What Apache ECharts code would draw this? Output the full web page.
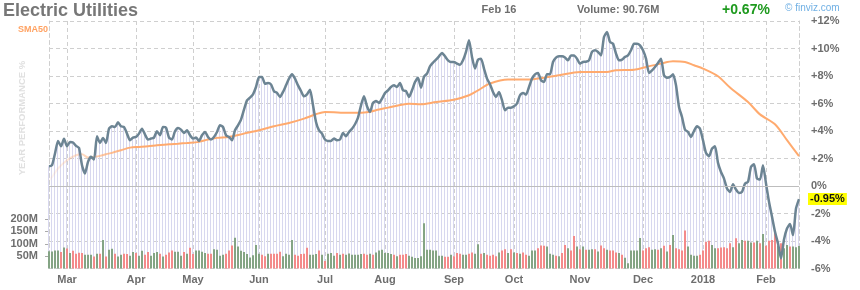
<!DOCTYPE html>
<html><head><meta charset="utf-8">
<script src="https://cdn.jsdelivr.net/npm/echarts@6/dist/echarts.min.js"></script>
<style>html,body{margin:0;padding:0;background:#fff}#c{width:860px;height:290px}</style>
</head><body><div id="c"></div>
<script>
// ---------- data ----------
const titleText = 'Electric Utilities';
const dateText = 'Feb 16';
const volumeText = 'Volume: 90.76M';
const changeText = '+0.67%';
const monthLabels = ['Mar','Apr','May','Jun','Jul','Aug','Sep','Oct','Nov','Dec','2018','Feb'];
const monthStartIdx = [6,29,48,70,92,112,135,155,177,198,218,239];
const perfTicks = [-6,-4,-2,0,2,4,6,8,10,12];
const volTicks = [50,100,150,200];
// year performance %, one value per trading day (Feb 21 2017 .. Feb 16 2018)
const perf = [
1.44,1.51,2.36,3.28,2.89,3.44,2.89,3.20,3.16,2.92,
2.77,1.51,0.91,1.75,2.12,1.92,3.61,3.13,3.50,3.13,
4.17,4.34,4.29,4.63,4.34,4.29,3.81,3.32,3.52,3.57,
3.81,4.17,3.74,3.38,3.45,3.52,3.98,3.69,4.29,4.24,
3.52,3.38,3.98,4.22,4.10,3.86,4.05,3.69,3.45,3.52,
3.28,3.69,3.93,3.57,3.38,3.57,3.93,4.41,4.29,3.69,
3.57,3.33,4.05,4.41,4.83,5.55,6.23,6.43,6.67,7.20,
7.93,7.93,7.44,7.49,7.39,6.89,6.77,6.48,6.84,7.32,
7.81,8.12,7.81,7.32,6.91,6.52,6.67,7.00,5.87,4.66,
4.05,3.81,3.38,3.28,3.28,3.45,3.33,3.38,3.86,3.62,
3.93,4.17,4.49,4.97,5.87,6.52,5.80,5.39,6.04,6.18,
6.04,6.35,6.76,6.96,7.20,7.32,7.20,7.49,6.96,6.91,
6.48,6.96,7.56,7.88,7.15,7.95,8.17,8.71,8.97,9.19,
9.43,9.68,9.43,9.14,9.02,9.02,8.90,8.82,9.14,9.75,
10.60,9.39,8.54,9.19,9.26,8.54,7.81,7.40,6.84,6.48,
6.84,6.24,5.51,5.70,5.70,5.80,6.00,6.60,6.77,6.65,
7.20,7.81,8.12,8.22,7.69,7.57,8.12,8.12,9.02,9.34,
9.43,9.43,9.34,9.14,9.50,9.50,9.26,8.90,9.02,9.04,
9.14,9.75,9.87,9.75,9.50,10.84,11.20,10.47,10.35,9.63,
9.14,9.19,9.39,9.50,9.87,10.35,10.35,10.23,9.87,9.26,
8.22,8.41,8.66,8.95,9.26,8.05,7.88,7.93,8.12,7.32,
5.75,5.02,4.10,3.93,3.57,4.00,4.34,4.17,3.33,2.41,
2.17,2.72,2.89,1.68,1.02,0.54,-0.18,-0.43,0.13,-0.26,
-0.50,-0.43,0.18,0.30,1.39,1.59,0.54,0.47,1.51,0.18,
-1.15,-2.24,-3.33,-4.18,-5.27,-3.89,-3.09,-2.77,-3.57,-1.64,
-0.95];
// SMA50 sample points: trading-day index and value
const smaIdx = [0,1,3,6,9,11,13,15,17,19,21,24,27,30,33,36,40,43,46,50,53,56,60,65,70,75,80,85,89,92,95,98,102,106,110,113,117,120,124,129,135,140,143,147,153,160,165,170,177,186,189,195,199,204,208,212,215,218,223,227,233,237,242,246,250];
const smaVal = [0.40,0.66,1.27,1.87,2.24,2.31,2.07,2.12,2.19,2.31,2.41,2.60,2.79,2.84,2.89,2.96,3.04,3.08,3.13,3.21,3.38,3.50,3.57,3.81,4.05,4.34,4.58,4.90,5.22,5.39,5.37,5.32,5.32,5.37,5.56,5.70,5.89,5.99,5.94,6.11,6.28,6.60,6.96,7.45,7.74,7.74,7.88,8.05,8.29,8.29,8.42,8.46,8.66,8.90,9.07,9.02,8.78,8.54,7.98,7.16,6.11,5.21,4.49,3.33,2.17];
// volume in millions, one per trading day
const vol = [
70,69,73,73,67,85,81,63,72,60,
64,63,56,56,56,48,60,60,115,48,
76,80,60,48,56,60,59,52,67,63,
52,72,56,67,52,63,67,60,48,56,
65,73,68,68,52,67,60,84,59,73,
73,68,63,60,60,78,76,52,56,60,
73,93,124,89,72,67,59,44,54,95,
60,56,50,60,60,60,60,68,50,60,
56,115,56,52,59,60,84,56,56,59,
73,56,30,60,63,52,63,56,60,56,
61,56,56,56,59,60,56,60,56,65,
73,76,63,63,59,56,50,56,56,59,
52,47,42,42,50,183,76,76,73,73,
52,52,47,47,56,50,63,60,56,56,
60,65,60,98,60,63,56,52,56,50,
65,73,78,63,78,65,63,60,65,56,
52,73,73,82,93,92,89,60,56,52,
50,63,95,82,73,131,89,78,89,76,
76,78,78,69,93,82,76,73,73,65,
63,56,43,21,73,73,73,123,73,82,
86,76,78,76,82,92,69,95,135,82,
78,73,154,89,56,52,52,56,73,108,
112,95,82,82,85,86,82,102,86,122,
102,115,112,112,105,105,112,102,139,92,
112,115,148,92,102,82,95,89,89,86,
91];
// 1 = up day (green bar), 0 = down day (red bar)
const volUp = [
1,1,1,1,0,1,0,1,0,0,
0,0,1,1,1,0,1,0,1,0,
1,1,0,1,1,0,0,1,1,0,
1,1,0,0,1,1,1,0,1,0,
0,0,1,1,1,0,1,0,0,1,
1,1,1,0,0,1,1,1,1,0,
0,0,1,1,1,1,1,1,1,1,
1,0,0,1,0,0,0,0,1,1,
1,1,0,0,0,0,0,1,1,1,
0,1,0,1,1,1,0,1,0,1,
1,1,1,1,1,0,0,1,0,1,
1,1,1,1,1,0,1,0,0,0,
1,1,1,1,1,1,1,1,1,1,
1,1,0,0,1,0,0,0,1,1,
0,0,1,1,0,1,0,0,0,0,
1,0,0,1,0,1,0,1,0,0,
1,1,1,0,0,0,1,1,1,0,
1,0,0,1,0,0,1,0,1,0,
1,1,0,1,0,0,1,0,0,0,
1,0,1,1,1,1,1,1,0,0,
0,1,1,0,1,0,1,0,1,0,
0,0,0,1,1,1,1,0,0,0,
0,1,1,0,0,0,0,0,1,0,
1,1,0,1,1,0,1,0,1,0,
0,0,0,1,0,1,1,0,1,1,
1];

// ---------- chart ----------
const cats = perf.map((_, i) => String(i));
const lastPerf = perf[perf.length - 1];
const FONT = "'Liberation Sans', Arial, sans-serif";
const GREY = '#6e6e6e';
const isMonth = (i) => monthStartIdx.indexOf(i) >= 0;
const chart = echarts.init(document.getElementById('c'), null, {renderer: 'canvas'});
const smaGrad = new echarts.graphic.LinearGradient(49, 0, 135, 0, [
  {offset: 0, color: 'rgba(255,170,110,0.08)'},
  {offset: 1, color: 'rgba(255,170,110,1)'}
], true);

chart.setOption({
  animation: false,
  backgroundColor: '#fff',
  textStyle: {fontFamily: FONT},
  grid: {left: 49, right: 61, top: 21, bottom: 21.5, containLabel: false},
  xAxis: {
    type: 'category', data: cats, boundaryGap: false,
    axisLine: {show: false}, axisTick: {show: false},
    axisLabel: {
      interval: (i) => isMonth(i),
      formatter: (v, i) => monthLabels[monthStartIdx.indexOf(Number(v))] || '',
      color: GREY, fontWeight: 'bold', fontSize: 11, fontFamily: FONT, margin: 6
    },
    splitLine: {show: true, interval: (i) => isMonth(i), lineStyle: {color: '#cfcfcf', type: [4, 3], width: 1}}
  },
  yAxis: [
    {
      type: 'value', position: 'right', min: -6, max: 12, interval: 2,
      axisLine: {show: true, lineStyle: {color: '#cfcfcf', type: [4, 3]}},
      axisTick: {show: false},
      axisLabel: {
        formatter: (v) => (v > 0 ? '+' + v : '' + v) + '%',
        color: GREY, fontWeight: 'bold', fontSize: 11, fontFamily: FONT, margin: 12,
        customValues: perfTicks
      },
      splitLine: {show: true, lineStyle: {color: '#cfcfcf', type: [4, 3], width: 1}}
    },
    {
      type: 'value', position: 'left', min: 0, max: 1000, interval: 50,
      axisLine: {show: true, lineStyle: {color: '#cfcfcf', type: [4, 3]}},
      axisTick: {show: true, customValues: volTicks, length: 4, lineStyle: {color: '#aaa'}},
      axisLabel: {
        customValues: volTicks, formatter: (v) => v + 'M',
        color: GREY, fontWeight: 'bold', fontSize: 11, fontFamily: FONT, margin: 11
      },
      splitLine: {show: false}
    },
    {type: 'value', show: false, min: 0, max: 18}
  ],
  graphic: [
    {type: 'text', left: 3, top: 2, style: {text: titleText, font: 'bold 18px ' + FONT, fill: '#777'}},
    {type: 'text', x: 18, y: 30, style: {text: 'SMA50', font: 'bold 9px ' + FONT, fill: '#ffa262', verticalAlign: 'middle'}},
    {type: 'text', x: 22, y: 118, rotation: Math.PI / 2, style: {text: 'YEAR PERFORMANCE %', font: 'bold 9.5px ' + FONT, fill: '#e0e0e0', align: 'center', verticalAlign: 'middle'}},
    {type: 'text', x: 499, y: 10, style: {text: dateText, font: 'bold 11px ' + FONT, fill: GREY, align: 'center', verticalAlign: 'middle'}},
    {type: 'text', x: 577, y: 10, style: {text: volumeText, font: 'bold 11px ' + FONT, fill: GREY, verticalAlign: 'middle'}},
    {type: 'text', x: 722, y: 10, style: {text: changeText, font: 'bold 14px ' + FONT, fill: '#1e9a1e', verticalAlign: 'middle'}},
    {type: 'text', x: 785, y: 8, style: {text: '\u00a9 finviz.com', font: '10px ' + FONT, fill: '#70b0e4', verticalAlign: 'middle'}}
  ],
  series: [
    {
      name: 'stripes', type: 'bar', yAxisIndex: 2, barWidth: 1, silent: true, z: 1,
      itemStyle: {color: '#d8d8ef'},
      data: perf.map((v) => v + 6),
      markLine: {
        silent: true, symbol: 'none', label: {show: false},
        lineStyle: {color: '#bdbdbd', type: 'solid', width: 1},
        data: [{yAxis: 6}]
      }
    },
    {
      name: 'volume', type: 'bar', yAxisIndex: 1, barWidth: 2, barGap: '-100%', silent: true, z: 2,
      data: vol.map((v, i) => ({value: v, itemStyle: {color: volUp[i] ? '#84a484' : '#f48a8a'}}))
    },
    {
      name: 'SMA50', type: 'line', yAxisIndex: 0, showSymbol: false, silent: true, z: 3,
      lineStyle: {color: smaGrad, width: 2}, smooth: 0.3,
      data: smaIdx.map((x, k) => [x, smaVal[k]])
    },
    {
      name: 'perf', type: 'line', yAxisIndex: 0, showSymbol: false, silent: true, z: 4,
      lineStyle: {color: '#6c8493', width: 2.5}, smooth: 0.2,
      data: perf,
      markLine: {
        silent: true, symbol: 'none',
        lineStyle: {color: 'rgba(0,0,0,0)', width: 0},
        label: {
          show: true, position: 'end', distance: 9,
          formatter: lastPerf.toFixed(2) + '%',
          backgroundColor: '#ffff00', color: '#111', fontWeight: 'bold', fontSize: 11, fontFamily: FONT,
          padding: [1, 2, 0, 2]
        },
        data: [{yAxis: lastPerf}]
      }
    }
  ]
});
</script>
</body></html>
